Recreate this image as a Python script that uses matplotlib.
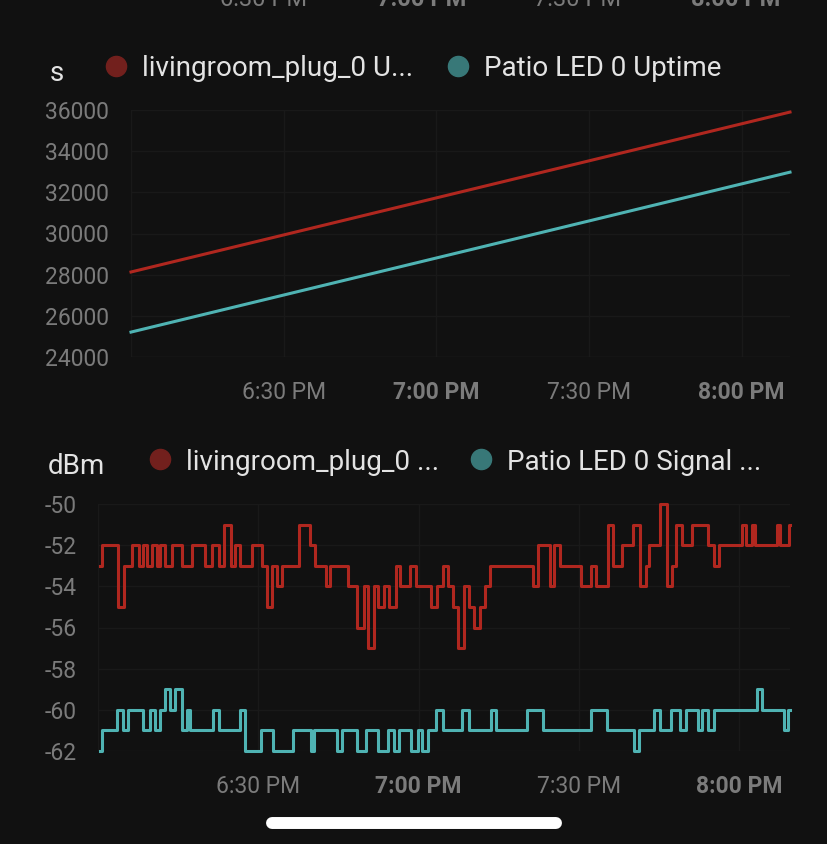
import matplotlib
matplotlib.use("Agg")
import matplotlib.pyplot as plt
from matplotlib.lines import Line2D

plt.rcParams['font.family'] = ['Roboto', 'DejaVu Sans']

W, H = 828, 844
BG = '#111111'
RED = '#b0271f'
TEAL = '#4fb3b3'
RED_DOT = '#72201d'
TEAL_DOT = '#387878'
GRID = '#191919'
TICK = '#7b7b7b'
TEXT = '#e3e3e3'

# minutes after 6:00 PM
x_ticks = [0, 30, 60, 90, 120]
x_labels = ['', '6:30 PM', '7:00 PM', '7:30 PM', '8:00 PM']
bold_labels = ['7:00 PM', '8:00 PM']

# uptime (s)
up_time = [0, 129.5]
plug_uptime = [28130, 35900]
patio_uptime = [25210, 32980]
up_ticks = [24000, 26000, 28000, 30000, 32000, 34000, 36000]

# signal (dBm), value holds from each time until the next
plug_sig_t = [0.4, 0.8, 3.8, 4.9, 6.4, 7.6, 8.4, 9.2, 10.1, 11.0, 11.6, 12.6, 13.8, 15.7,
              17.6, 20.1, 21.3, 22.7, 23.5, 24.8, 25.7, 26.6, 28.8, 30.7, 31.7, 32.6, 33.5,
              34.5, 37.6, 39.6, 40.6, 42.6, 43.4, 46.7, 48.5, 49.7, 50.5, 51.7, 52.4, 53.5,
              54.5, 55.7, 56.5, 58.4, 59.5, 62.4, 63.5, 64.5, 65.5, 66.5, 67.4, 68.5, 69.5,
              70.4, 71.5, 72.5, 73.4, 81.4, 82.3, 84.5, 85.4, 86.4, 90.3, 92.3, 93.2, 95.4,
              96.4, 98.1, 100.1, 101.4, 102.5, 103.2, 105.1, 106.4, 107.5, 108.2, 109.2,
              111.1, 114.2, 115.3, 116.3, 120.5, 121.3, 122.4, 123.0, 127.1, 127.7, 129.4,
              129.5]
plug_sig = [-53, -52, -55, -53, -52, -53, -52, -53, -52, -53, -52, -53, -52, -53,
            -52, -53, -52, -53, -51, -53, -52, -53, -52, -53, -55, -53, -54,
            -53, -51, -52, -53, -54, -53, -54, -56, -54, -57, -54, -55, -54,
            -55, -53, -54, -53, -54, -55, -54, -53, -54, -55, -57, -54, -55,
            -56, -55, -54, -53, -54, -52, -54, -52, -53, -54, -53, -54, -51,
            -53, -52, -51, -54, -53, -52, -50, -54, -53, -51, -52,
            -51, -52, -53, -52, -51, -52, -51, -52, -51, -52, -51,
            -51]

patio_sig_t = [0.4, 0.8, 3.5, 4.6, 5.7, 8.5, 9.8, 10.7, 11.6, 12.6, 13.5, 14.4, 15.7, 16.6,
               17.3, 21.6, 22.6, 26.6, 27.6, 30.5, 32.8, 36.5, 39.8, 40.5, 44.8, 45.7, 48.5,
               50.1, 52.4, 54.2, 55.4, 56.3, 58.5, 59.8, 60.7, 61.7, 63.2, 64.5, 68.2, 69.5,
               73.5, 74.5, 80.3, 83.2, 92.3, 95.3, 100.3, 101.3, 104.1, 105.1, 107.2, 109.0,
               110.0, 112.2, 113.1, 114.2, 115.3, 123.3, 124.2, 128.3, 129.2, 129.5]
patio_sig = [-62, -61, -60, -61, -60, -61, -60, -61, -60, -59, -60, -59, -61, -60,
             -61, -60, -61, -60, -62, -61, -62, -61, -62, -61, -62, -61, -62,
             -61, -62, -61, -62, -61, -62, -61, -62, -61, -60, -61, -60, -61,
             -60, -61, -60, -61, -60, -61, -62, -61, -60, -61, -60, -61,
             -60, -61, -60, -61, -60, -59, -60, -61, -60, -60]
sig_ticks = [-62, -60, -58, -56, -54, -52, -50]


def fx(x):
    return x / W


def fy(y):
    return 1 - y / H


fig = plt.figure(figsize=(W / 100, H / 100), dpi=100)
fig.patch.set_facecolor(BG)


def make_axes(left, right, top, bottom, ylim, yticks, label_x):
    ax = fig.add_axes([fx(left), fy(bottom), fx(right - left), (bottom - top) / H])
    ax.set_facecolor(BG)
    ax.set_xlim(0, 129.5)
    ax.set_ylim(*ylim)
    for s in ax.spines.values():
        s.set_visible(False)
    ax.set_xticks(x_ticks)
    ax.set_xticklabels(x_labels)
    ax.set_yticks(yticks)
    ax.set_yticklabels([str(v) for v in yticks])
    ax.grid(True, color=GRID, lw=1)
    ax.tick_params(length=0, colors=TICK, labelsize=16.5)
    ax.tick_params(axis='x', pad=17)
    ax.tick_params(axis='y', pad=(left - label_x) * 0.72)
    for t in ax.get_yticklabels():
        t.set_horizontalalignment('left')
    for t in ax.get_xticklabels():
        if t.get_text() in bold_labels:
            t.set_fontweight('bold')
    return ax


ax1 = make_axes(131, 790, 110, 357, (24000, 36000), up_ticks, 45)
ax1.axhline(24000, color='#1f1f1f', lw=1)
ax1.plot(up_time, plug_uptime, color=RED, lw=2.2, clip_on=False)
ax1.plot(up_time, patio_uptime, color=TEAL, lw=2.2, clip_on=False)

ax2 = make_axes(98, 790, 504, 751, (-62, -50), sig_ticks, 45)
ax2.plot(plug_sig_t, plug_sig, drawstyle='steps-post', color=RED, lw=2.2, clip_on=False)
ax2.plot(patio_sig_t, patio_sig, drawstyle='steps-post', color=TEAL, lw=2.2, clip_on=False)


def legend_item(x, y, color, label):
    fig.add_artist(Line2D([fx(x)], [fy(y)], marker='o', ms=14.5, color=color,
                          mec=color, transform=fig.transFigure))
    fig.text(fx(x + 26), fy(y), label, color=TEXT, fontsize=20, va='center_baseline')


# units and legends
fig.text(fx(50), fy(81), 's', color=TEXT, fontsize=20, va='baseline')
legend_item(116, 66, RED_DOT, 'livingroom_plug_0 U...')
legend_item(458, 66, TEAL_DOT, 'Patio LED 0 Uptime')

fig.text(fx(48), fy(474), 'dBm', color=TEXT, fontsize=20, va='baseline')
legend_item(160, 459, RED_DOT, 'livingroom_plug_0 ...')
legend_item(481, 459, TEAL_DOT, 'Patio LED 0 Signal ...')

# labels of the chart above, scrolled out of view (cut off at the top edge as in the screenshot)
for xc, lab in zip([264, 422, 578, 736], x_labels[1:]):
    fig.text(fx(xc), fy(6), lab, color=TICK, fontsize=17, ha='center', va='baseline',
             fontweight='bold' if lab in bold_labels else 'normal')

# home indicator
fig.add_artist(Line2D([fx(272), fx(556)], [fy(823), fy(823)], color='white', lw=8.6,
                      solid_capstyle='round', transform=fig.transFigure))

fig.savefig('out.png', dpi=100, facecolor=BG)
